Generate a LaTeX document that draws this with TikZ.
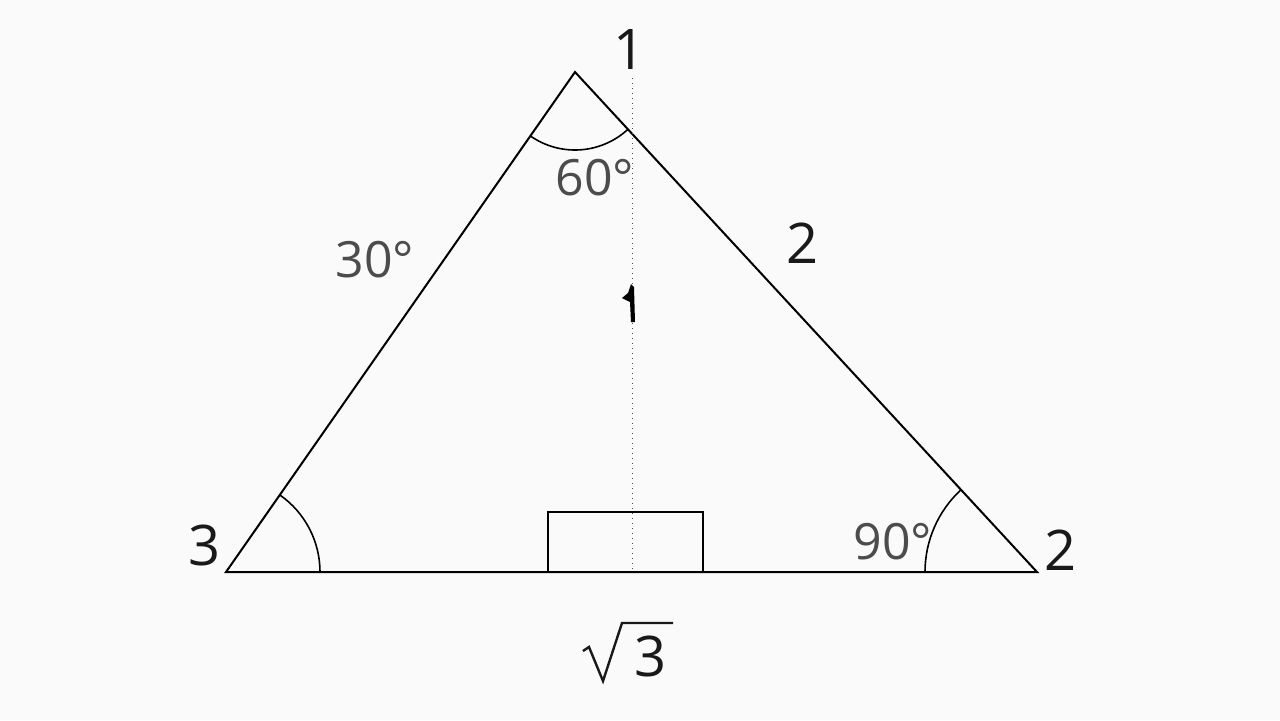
\documentclass[tikz,border=0pt]{standalone}
\usepackage{fontspec}
\setmainfont{Open Sans}
\usetikzlibrary{calc}
\tikzset{%
  myside/.style={draw=black, line width=1pt},
  myarc/.style={draw=black, line width=0.8pt},
  mynum/.style={font=\fontsize{28}{30}\selectfont, text=black!90},
  myangle/.style={font=\fontsize{25}{27}\selectfont, text=black!70}
}

\begin{document}
\begin{tikzpicture}[x=0.5pt, y=-0.5pt]
  \useasboundingbox[fill=black!2] (0,0) rectangle (1280,720);
  \coordinate (A) at (226,572);
  \coordinate (B) at (575,72);
  \coordinate (C) at (1037,572);
  \coordinate (H) at (632,572);
  \coordinate (T) at (632,78);
  \draw [myside] (A) -- (B) -- (C) -- cycle;
  \draw [dotted, black!70, line width=0.5pt] (T) -- (H);
  \draw [myside] (548,572) rectangle (703,512);
  % angle arcs
  \draw [myarc] ($(A)+(94,0)$) arc [start angle=0, end angle=-55.1, radius=94];
  \draw [myarc] ($(B)+(-235.1:78)$) arc [start angle=-235.1, end angle=-312.7, radius=78];
  \draw [myarc] ($(C)+(-112,0)$) arc [start angle=180, end angle=227.3, radius=112];
  \fill (631,284) -- (634,287) -- (635,322) -- (631,322) -- (630,302) -- (622,298) -- (628,293) -- cycle;
  % labels
  \node [mynum] (n1) at (630,50) {1};
  \node [mynum] (n2) at (803,243) {2};
  \node [mynum] (n3) at (205,545) {3};
  \node [mynum] (n4) at (1060,550) {2};
  \node [mynum] (r3) at (651,656) {3};
  \draw [black!90, line width=1.2pt, line join=miter] (583,651) -- (589,647) -- (603,681) -- (622,623) -- (673,623);
  \node [myangle] (a60) at (595,178) {60°};
  \node [myangle] (a30) at (375,260) {30°};
  \node [myangle] (a90) at (893,542) {90°};
\end{tikzpicture}
\end{document}
